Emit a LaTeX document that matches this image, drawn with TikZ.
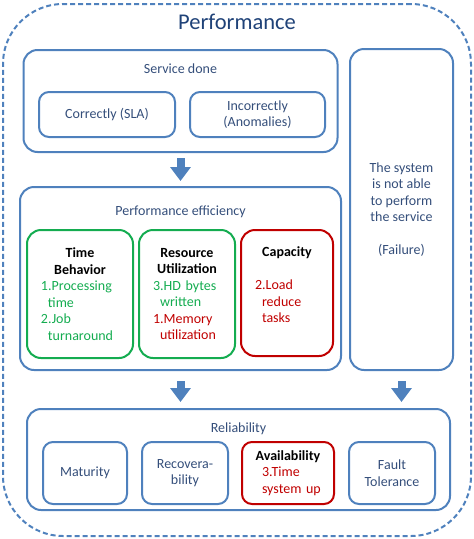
\documentclass[tikz,border=0pt]{standalone}
\usepackage{fontspec}
\setmainfont{Carlito}
\usetikzlibrary{arrows.meta}
\definecolor{boxblue}{RGB}{79,129,189}
\definecolor{txtblue}{RGB}{52,78,122}
\definecolor{titleblue}{RGB}{31,66,120}
\definecolor{okgreen}{RGB}{20,172,80}
\definecolor{badred}{RGB}{192,0,0}

\begin{document}
\begin{tikzpicture}[x=1pt, y=-1pt,
        every node/.style={font=\fontsize{14}{16.5}\selectfont, text=txtblue, inner sep=0pt},
        bluebox/.style={draw=boxblue, line width=2pt, rounded corners=14pt},
        smallbox/.style={bluebox, rounded corners=10pt, align=center},
        greenbox/.style={draw=okgreen, line width=2pt, rounded corners=14pt, text=black},
        redbox/.style={greenbox, draw=badred},
        bigarrow/.style={draw=boxblue, line width=8pt,
            -{Triangle[width=20pt, length=14pt, fill=boxblue]}}]
    \useasboundingbox (0,0) rectangle (474,539);
    % outline
    \node[draw=boxblue, line width=2pt, dash pattern=on 5pt off 3pt, rounded corners=60pt,
          minimum width=468pt, minimum height=532pt] (perf) at (237,270) {};
    \node[font=\fontsize{22.5}{26}\selectfont, text=titleblue] (title) at (237,22) {Performance};

    % service done
    \node[bluebox, minimum width=314pt, minimum height=102pt] (sd) at (180.5,101) {};
    \node (sdlbl) at (180.5,69) {Service done};
    \node[smallbox, minimum width=136pt, minimum height=45pt] (ok) at (107,114.5) {Correctly (SLA)};
    \node[smallbox, minimum width=135pt, minimum height=45pt] (bad) at (257.5,114.5) {Incorrectly\\(Anomalies)};

    % failure
    \node[bluebox, minimum width=103pt, minimum height=321pt, align=center] (fail) at (401.5,209.5)
        {The system\\is not able\\to perform\\the service\\[16.5pt](Failure)};

    % performance efficiency
    \node[bluebox, minimum width=321pt, minimum height=183pt] (pe) at (180.5,278.5) {};
    \node (pelbl) at (180.5,212) {Performance efficiency};
    \node[greenbox, minimum width=106pt, minimum height=128pt, text width=78pt] (tb) at (80,294)
        {{\centering\bfseries Time\\Behavior\par}
         {\raggedright\color{okgreen}1.Processing\\\hspace*{7pt}time\\2.Job\\\hspace*{7pt}turnaround\par}};
    \node[greenbox, minimum width=96pt, minimum height=128pt, text width=68pt] (ru) at (187,294)
        {{\centering\bfseries Resource\\Utilization\par}
         {\raggedright\color{okgreen}3.HD bytes\\\hspace*{7pt}written\par}
         {\raggedright\color{badred}1.Memory\\\hspace*{7pt}utilization\par}};
    \node[redbox, minimum width=92pt, minimum height=126pt, text width=64pt] (cap) at (287,293)
        {{\centering\bfseries Capacity\\\mbox{}\par}
         {\raggedright\color{badred}2.Load\\\hspace*{7pt}reduce\\\hspace*{7pt}tasks\\\mbox{}\par}};

    % reliability
    \node[bluebox, minimum width=423pt, minimum height=101pt] (rel) at (238.5,459.5) {};
    \node (rellbl) at (238.5,429) {Reliability};
    \node[smallbox, minimum width=84pt, minimum height=62pt] (mat) at (85,473) {Maturity};
    \node[smallbox, minimum width=86pt, minimum height=62pt] (rec) at (185,473) {Recovera-\\bility};
    \node[redbox, rounded corners=10pt, minimum width=92pt, minimum height=62pt, text width=70pt] (av) at (288,473)
        {{\centering\bfseries Availability\par}
         {\raggedright\color{badred}\hspace*{9pt}3.Time\\\hspace*{9pt}system up\par}};
    \node[smallbox, minimum width=86pt, minimum height=62pt] (ft) at (392,473) {Fault\\Tolerance};

    % arrows
    \draw[bigarrow, shorten <=5pt, shorten >=5pt] (sd.south) -- (pe.north);
    \draw[bigarrow, shorten <=10pt, shorten >=6pt] (pe.south) -- (pe.south |- rel.north);
    \draw[bigarrow, shorten <=10pt, shorten >=6pt] (fail.south) -- (fail.south |- rel.north);
\end{tikzpicture}
\end{document}
